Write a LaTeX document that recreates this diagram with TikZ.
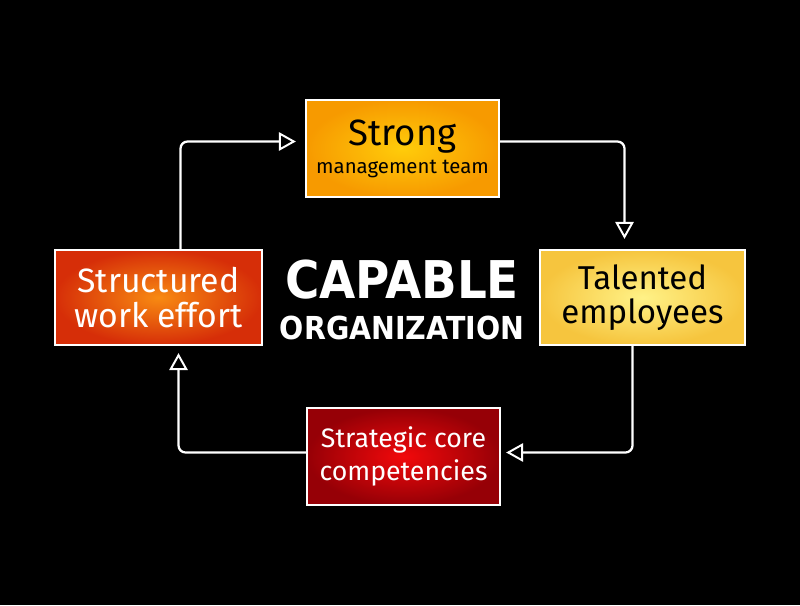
\documentclass[tikz,border=0pt]{standalone}
\usepackage{fontspec}
\setmainfont{Fira Sans}
\newfontfamily\titlefont{DejaVu Sans Condensed}
\usetikzlibrary{arrows.meta,calc}
\definecolor{capInk}{HTML}{000000}
\definecolor{capOrange}{HTML}{F79A00}
\definecolor{capGold}{HTML}{FFCC0A}
\definecolor{capRust}{HTML}{D62E08}
\definecolor{capTang}{HTML}{F88A12}
\definecolor{capSand}{HTML}{F6C53E}
\definecolor{capLemon}{HTML}{FFF287}
\definecolor{capWine}{HTML}{960006}
\definecolor{capRed}{HTML}{F2090B}
\tikzset{
    capbox/.style={draw=white, line width=1.6pt, align=center, shading=radial, inner sep=2pt, minimum width=4.825cm, minimum height=2.425cm},
    mgmtbox/.style={capbox, outer color=capOrange, inner color=capGold, text=capInk},
    effortbox/.style={capbox, outer color=capRust, inner color=capTang, text=white, minimum width=5.175cm, minimum height=2.375cm},
    talentbox/.style={capbox, outer color=capSand, inner color=capLemon, text=capInk, minimum width=5.125cm, minimum height=2.375cm},
    corebox/.style={capbox, outer color=capWine, inner color=capRed, text=white},
    looparrow/.style={draw=white, line width=1.6pt, rounded corners=5pt, -{Triangle[open, length=12pt, width=13pt, line width=1.4pt, fill=capInk]}}
}
\begin{document}
\begin{tikzpicture}[x=0.025cm, y=-0.025cm]
\fill[capInk] (0,0) rectangle (800,605);
\useasboundingbox (0,0) rectangle (800,605);
\node[text=white, align=center, font=\titlefont\bfseries\fontsize{22.5}{26}\selectfont] (title) at (402,300) {{\fontsize{37}{40}\selectfont CAPABLE}\\[3pt]ORGANIZATION};
\node[mgmtbox, font=\fontsize{14.5}{17}\selectfont] (strong) at (402.5,148.5) {{\fontsize{26}{28}\selectfont Strong}\\[3pt]management team};
\node[talentbox, font=\fontsize{23.5}{24}\selectfont] (talent) at (642.5,297.5) {Talented\\employees};
\node[corebox, font=\fontsize{19}{24}\selectfont] (compet) at (403.5,456.5) {Strategic core\\competencies};
\node[effortbox, font=\fontsize{24}{25}\selectfont] (effort) at (158.5,297.5) {Structured\\work effort};
\draw[looparrow, shorten >=0.25cm] ($(strong.east)+(0,-7)$) -| ($(talent.north)+(-18,0)$);
\draw[looparrow, shorten >=0.125cm] ($(talent.south)+(-10,0)$) |- ($(compet.east)+(0,-4)$);
\draw[looparrow, shorten >=0.175cm] ($(compet.west)+(0,-4)$) -| ($(effort.south)+(20,0)$);
\draw[looparrow, shorten >=0.225cm] ($(effort.north)+(22,0)$) |- ($(strong.west)+(0,-7)$);
\end{tikzpicture}
\end{document}
